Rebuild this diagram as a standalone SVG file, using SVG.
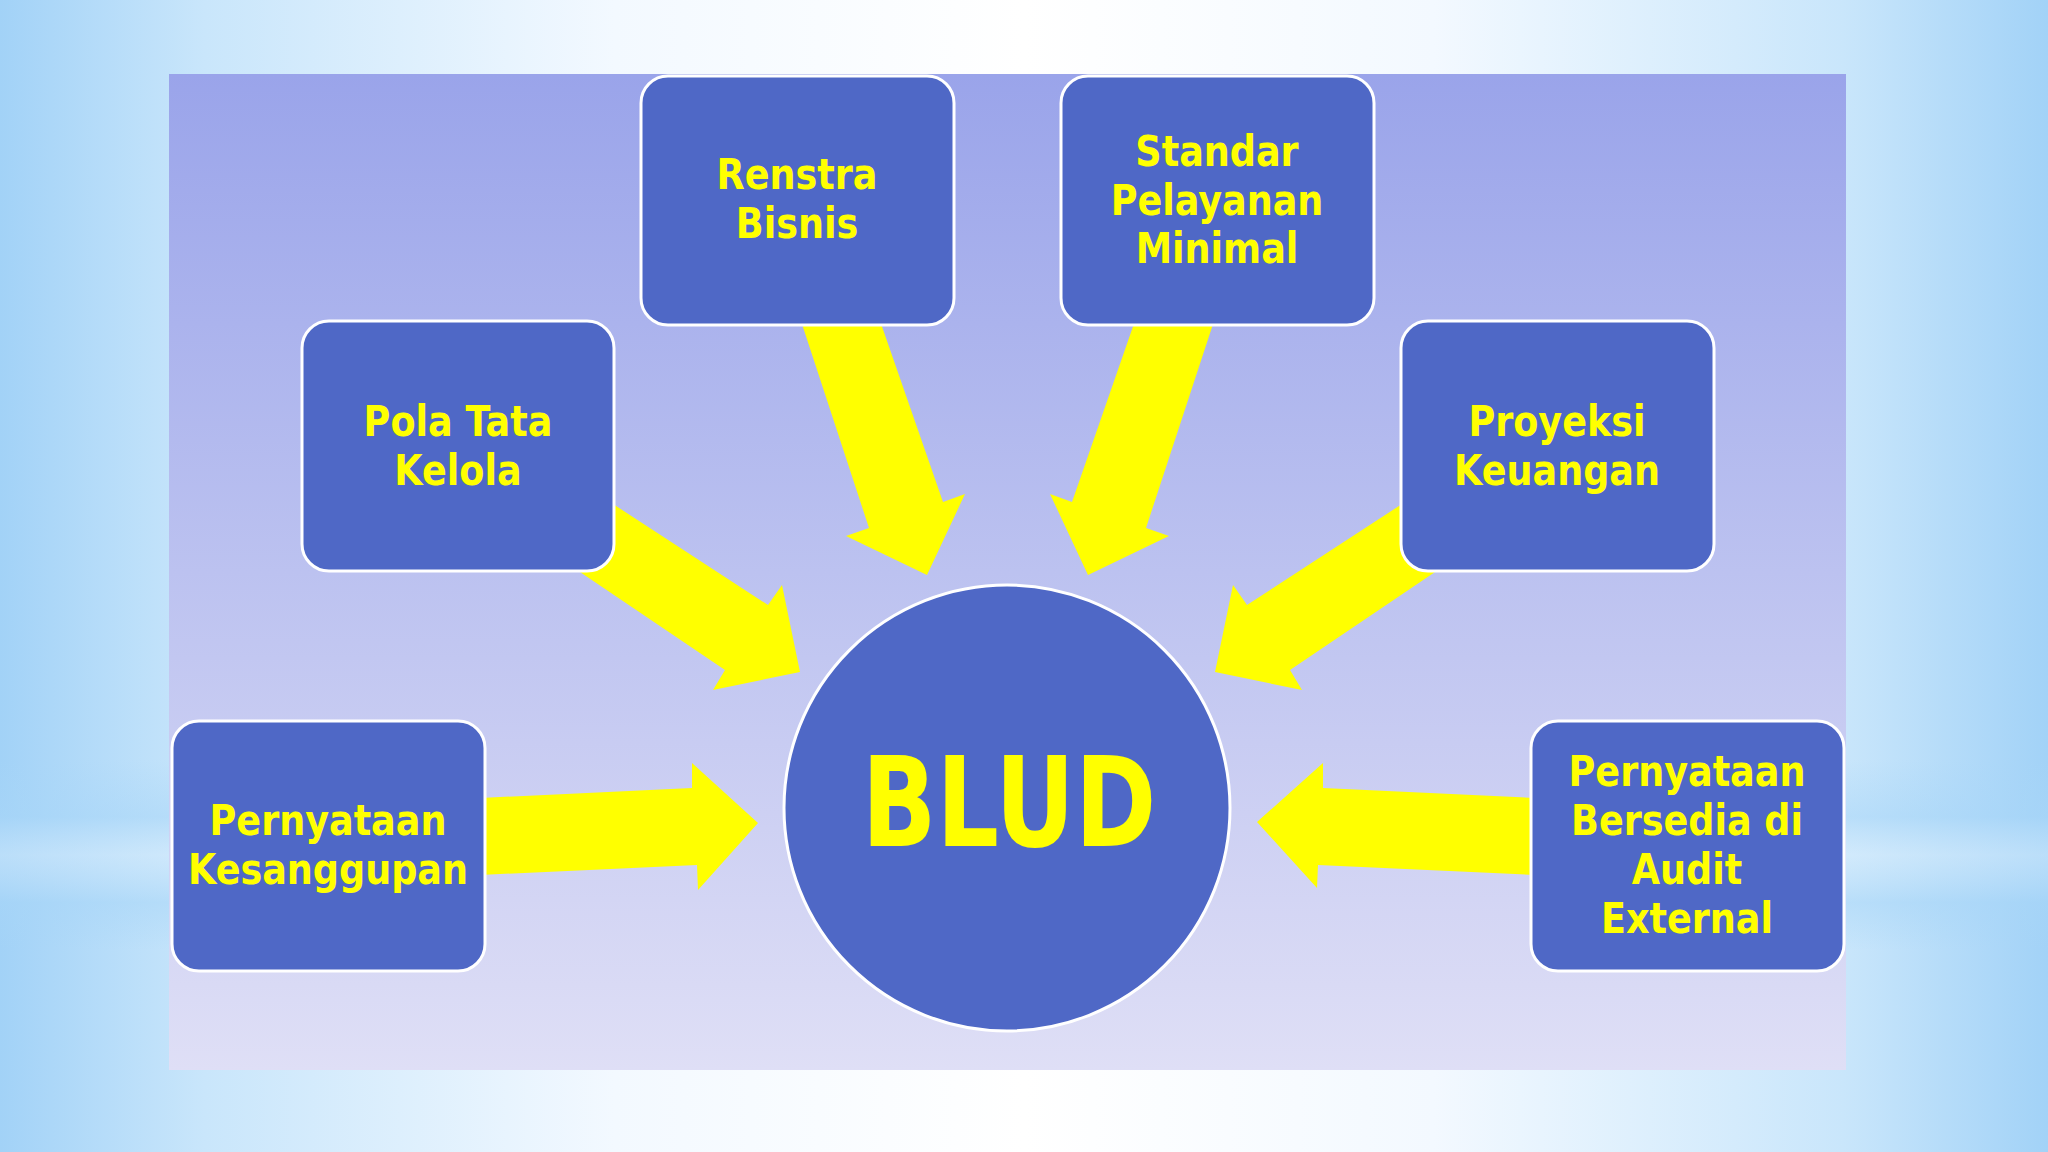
<svg xmlns="http://www.w3.org/2000/svg" width="2048" height="1152" viewBox="0 0 2048 1152">
<defs>
<linearGradient id="bg" x1="0" y1="0" x2="1" y2="0">
<stop offset="0" stop-color="#a2d2f7"/>
<stop offset="0.1" stop-color="#c9e6fb"/>
<stop offset="0.3" stop-color="#f3f9ff"/>
<stop offset="0.5" stop-color="#ffffff"/>
<stop offset="0.7" stop-color="#f3f9ff"/>
<stop offset="0.9" stop-color="#c9e6fb"/>
<stop offset="1" stop-color="#a2d2f7"/>
</linearGradient>
<linearGradient id="band" x1="0" y1="0" x2="0" y2="1">
<stop offset="0" stop-color="#a8d6f8" stop-opacity="0"/>
<stop offset="0.3" stop-color="#a8d6f8" stop-opacity="0.5"/>
<stop offset="0.5" stop-color="#dff0fd" stop-opacity="0.4"/>
<stop offset="0.75" stop-color="#a8d6f8" stop-opacity="0.5"/>
<stop offset="1" stop-color="#a8d6f8" stop-opacity="0"/>
</linearGradient>
<linearGradient id="panel" x1="0" y1="0" x2="0" y2="1">
<stop offset="0" stop-color="#9aa4ea"/>
<stop offset="0.5" stop-color="#bcc2f0"/>
<stop offset="1" stop-color="#dfdff6"/>
</linearGradient>
<style>
.box{fill:#4f68c6;stroke:#ffffff;stroke-width:3}
.arrow{fill:#ffff00;stroke:none}
.lbl{font-family:"DejaVu Sans","Liberation Sans",sans-serif;font-weight:bold;font-size:43px;fill:#ffff00;text-anchor:middle}
.big{font-family:"DejaVu Sans","Liberation Sans",sans-serif;font-weight:bold;font-size:124px;fill:#ffff00;text-anchor:middle}
</style>
</defs>
<rect x="0" y="0" width="2048" height="1152" fill="url(#bg)"/>
<rect x="0" y="760" width="169" height="190" fill="url(#band)"/>
<rect x="1846" y="760" width="202" height="190" fill="url(#band)"/>
<rect x="169" y="74" width="1677" height="996" fill="url(#panel)"/>
<g id="connectors">
<polygon class="arrow" points="799,315 878,315 943,502 965,494 927,575 846,536 869,528"/>
<polygon class="arrow" points="1216,315 1137,315 1072,502 1050,494 1088,575 1169,536 1146,528"/>
<polygon class="arrow" points="570,476 768,605 782,585 800,672 713,690 725,670 540,545"/>
<polygon class="arrow" points="1445,476 1247,605 1233,585 1215,672 1302,690 1290,670 1475,545"/>
<polygon class="arrow" points="480,798 692,788 692,763 758,823 698,890 697,865 480,875"/>
<polygon class="arrow" points="1535,798 1323,788 1323,763 1257,822 1317,888 1318,865 1535,875"/>
</g>
<g id="node-renstra">
<rect class="box" x="641" y="76" width="313" height="249" rx="27"/>
<g transform="translate(797,0) scale(0.85,1)"><text class="lbl" x="0" y="189">Renstra</text><text class="lbl" x="0" y="238">Bisnis</text></g>
</g>
<g id="node-standar">
<rect class="box" x="1061" y="76" width="313" height="249" rx="27"/>
<g transform="translate(1217,0) scale(0.85,1)"><text class="lbl" x="0" y="166">Standar</text><text class="lbl" x="0" y="215">Pelayanan</text><text class="lbl" x="0" y="263">Minimal</text></g>
</g>
<g id="node-pola">
<rect class="box" x="302" y="321" width="312" height="250" rx="27"/>
<g transform="translate(458,0) scale(0.85,1)"><text class="lbl" x="0" y="436">Pola Tata</text><text class="lbl" x="0" y="485">Kelola</text></g>
</g>
<g id="node-proyeksi">
<rect class="box" x="1401" y="321" width="313" height="250" rx="27"/>
<g transform="translate(1557,0) scale(0.85,1)"><text class="lbl" x="0" y="436">Proyeksi</text><text class="lbl" x="0" y="485">Keuangan</text></g>
</g>
<g id="node-kesanggupan">
<rect class="box" x="172" y="721" width="313" height="250" rx="27"/>
<g transform="translate(328,0) scale(0.85,1)"><text class="lbl" x="0" y="835">Pernyataan</text><text class="lbl" x="0" y="884">Kesanggupan</text></g>
</g>
<g id="node-bersedia">
<rect class="box" x="1531" y="721" width="313" height="250" rx="27"/>
<g transform="translate(1687,0) scale(0.85,1)"><text class="lbl" x="0" y="786">Pernyataan</text><text class="lbl" x="0" y="835">Bersedia di</text><text class="lbl" x="0" y="884">Audit</text><text class="lbl" x="0" y="933">External</text></g>
</g>
<g id="node-blud">
<circle class="box" cx="1007" cy="808" r="223"/>
<g transform="translate(1009,0) scale(0.79,1)"><text class="big" x="0" y="846">BLUD</text></g>
</g>
</svg>
